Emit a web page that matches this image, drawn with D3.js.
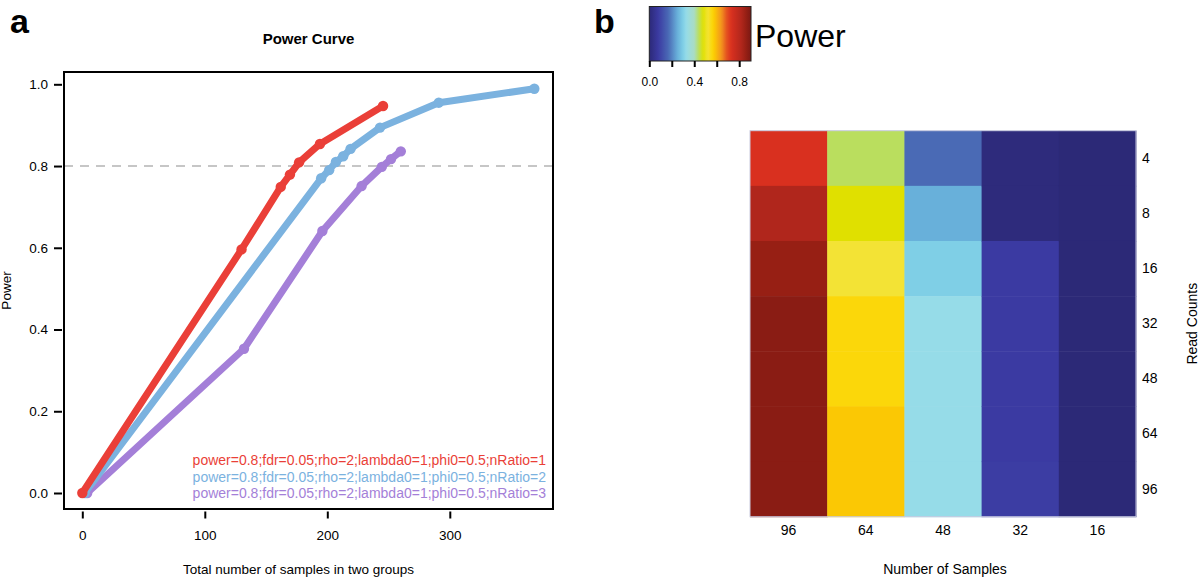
<!DOCTYPE html>
<html>
<head>
<meta charset="utf-8">
<script src="https://cdn.jsdelivr.net/npm/d3@7"></script>
<style>
  body { margin: 0; background: #fff; }
  svg { display: block; font-family: "Liberation Sans", Arial, Helvetica, sans-serif; }
</style>
</head>
<body>
<svg id="chart" width="1200" height="577"></svg>
<script>
// ---------- Panel a data ----------
const seriesNames = [
  "power=0.8;fdr=0.05;rho=2;lambda0=1;phi0=0.5;nRatio=1",
  "power=0.8;fdr=0.05;rho=2;lambda0=1;phi0=0.5;nRatio=2",
  "power=0.8;fdr=0.05;rho=2;lambda0=1;phi0=0.5;nRatio=3"
];
const seriesColors = ["#ea3f38", "#7bb2df", "#a47fd8"];
const redX    = [0, 130, 162, 169.5, 177, 194, 245.5];
const redY    = [0, 0.596, 0.749, 0.779, 0.809, 0.854, 0.947];
const blueX   = [2, 195, 201.5, 207, 213, 219, 243, 291, 369];
const blueY   = [0, 0.770, 0.790, 0.810, 0.824, 0.842, 0.894, 0.955, 0.989];
const purpleX = [4, 132, 196, 228, 244.5, 252, 260];
const purpleY = [0, 0.353, 0.641, 0.751, 0.798, 0.817, 0.836];
const xTicksA = [0, 100, 200, 300];
const yTicksA = [0, 0.2, 0.4, 0.6, 0.8, 1.0];
const powerTarget = 0.8;

// ---------- Panel b data ----------
const sampleCols = ["96", "64", "48", "32", "16"];
const readRows = ["4", "8", "16", "32", "48", "64", "96"];
// power values: one array per column (Number of Samples), rows in readRows order
const power96 = [0.73, 0.82, 0.86, 0.88, 0.88, 0.88, 0.88];
const power64 = [0.44, 0.48, 0.52, 0.56, 0.56, 0.58, 0.58];
const power48 = [0.17, 0.25, 0.30, 0.33, 0.33, 0.33, 0.33];
const power32 = [0.01, 0.01, 0.08, 0.08, 0.08, 0.08, 0.085];
const power16 = [0.0, 0.0, 0.0, 0.0, 0.0, 0.0, 0.0];
const colorStops  = [0.0, 0.08, 0.17, 0.25, 0.30, 0.33, 0.40, 0.44, 0.48, 0.52, 0.56, 0.58, 0.64, 0.69, 0.73, 0.82, 0.86, 0.88, 0.91];
const colorValues = ["#2c2977", "#3b3aa2", "#4a6ab5", "#68b0da", "#7fcfe6", "#96dce8", "#a9dcc4", "#bade5e", "#e0e000", "#f3e335", "#fbd70a", "#fbc804", "#f3961e", "#e4501f", "#d9301f", "#b0261c", "#971f14", "#8a1c14", "#7a1812"];
const cbTicks = [0, 0.2, 0.4, 0.6, 0.8];

const svg = d3.select("#chart");
svg.append("rect").attr("width", 1200).attr("height", 577).attr("fill", "#fff");

// ================= Panel a =================
const A = { left: 64, right: 553, top: 72, bottom: 509 };
const x = d3.scaleLinear().domain([0, 100]).range([82.3, 204.8]);
const y = d3.scaleLinear().domain([0, 1]).range([493, 84.3]);

svg.append("text").attr("x", 10).attr("y", 33).attr("font-size", 34).attr("font-weight", "bold").text("a");
svg.append("text").attr("x", 308.5).attr("y", 44).attr("text-anchor", "middle")
  .attr("font-size", 15).attr("font-weight", "bold").text("Power Curve");

// dashed target line
svg.append("line")
  .attr("x1", A.left).attr("x2", A.right)
  .attr("y1", y(powerTarget)).attr("y2", y(powerTarget))
  .attr("stroke", "#c6c6c6").attr("stroke-width", 2).attr("stroke-dasharray", "9,7");

const series = [
  { xs: redX, ys: redY, c: seriesColors[0] },
  { xs: blueX, ys: blueY, c: seriesColors[1] },
  { xs: purpleX, ys: purpleY, c: seriesColors[2] }
];
const line = d3.line().x(d => x(d[0])).y(d => y(d[1]));
const gA = svg.append("g");
// draw in reverse order so red sits on top like the reference
series.slice().reverse().forEach(s => {
  const pts = s.xs.map((v, i) => [v, s.ys[i]]);
  gA.append("path").attr("d", line(pts)).attr("fill", "none")
    .attr("stroke", s.c).attr("stroke-width", 7).attr("stroke-linejoin", "round");
  gA.selectAll(null).data(pts).enter().append("circle")
    .attr("cx", d => x(d[0])).attr("cy", d => y(d[1])).attr("r", 5.2).attr("fill", s.c);
});

// box
svg.append("rect").attr("x", A.left).attr("y", A.top)
  .attr("width", A.right - A.left).attr("height", A.bottom - A.top)
  .attr("fill", "none").attr("stroke", "#000").attr("stroke-width", 2);

// axes
const yAxis = svg.append("g").attr("transform", `translate(${A.left - 2},0)`)
  .call(d3.axisLeft(y).tickValues(yTicksA).tickFormat(d3.format(".1f")).tickSize(8).tickPadding(6));
const xAxis = svg.append("g").attr("transform", `translate(0,${A.bottom + 2.5})`)
  .call(d3.axisBottom(x).tickValues(xTicksA).tickFormat(d3.format("d")).tickSize(7).tickPadding(12));
[yAxis, xAxis].forEach(g => {
  g.select(".domain").remove();
  g.selectAll(".tick line").attr("stroke", "#000").attr("stroke-width", 2);
  g.selectAll(".tick text").attr("font-size", 13.5).attr("fill", "#000")
    .attr("font-family", "'Liberation Sans', Arial, Helvetica, sans-serif");
});

svg.append("text").attr("x", 298.5).attr("y", 574).attr("text-anchor", "middle")
  .attr("font-size", 13.5).text("Total number of samples in two groups");
svg.append("text").attr("transform", "translate(11,290.5) rotate(-90)").attr("text-anchor", "middle")
  .attr("font-size", 13.5).text("Power");

// legend
seriesNames.forEach((n, i) => {
  svg.append("text").attr("x", 546).attr("y", 465 + i * 16.7).attr("text-anchor", "end")
    .attr("font-size", 14).attr("fill", seriesColors[i]).text(n);
});

// ================= Panel b =================
svg.append("text").attr("x", 594).attr("y", 33).attr("font-size", 34).attr("font-weight", "bold").text("b");

const color = d3.scaleLinear().domain(colorStops).range(colorValues)
  .interpolate(d3.interpolateRgb).clamp(true);

// colorbar
const cbX = d3.scaleLinear().domain([0, 0.905]).range([649.3, 751]);
const cbTop = 6.5, cbBottom = 61;
const defs = svg.append("defs");
const grad = defs.append("linearGradient").attr("id", "cbgrad").attr("x1", "0%").attr("x2", "100%");
d3.range(0, 1.0001, 0.02).forEach(t => {
  grad.append("stop").attr("offset", (t * 100) + "%").attr("stop-color", color(t * 0.905));
});
svg.append("rect").attr("x", cbX(0)).attr("y", cbTop)
  .attr("width", cbX(0.905) - cbX(0)).attr("height", cbBottom - cbTop)
  .attr("fill", "url(#cbgrad)").attr("stroke", "#222").attr("stroke-width", 1);
const cbAxis = svg.append("g").attr("transform", `translate(0,${cbBottom})`)
  .call(d3.axisBottom(cbX).tickValues(cbTicks).tickFormat(d => (d % 0.4 < 1e-9 || Math.abs(d % 0.4 - 0.4) < 1e-9) ? d3.format(".1f")(d) : "")
    .tickSize(6).tickPadding(10));
cbAxis.select(".domain").remove();
cbAxis.selectAll(".tick line").attr("stroke", "#000").attr("stroke-width", 2);
cbAxis.selectAll(".tick text").attr("font-size", 12).attr("fill", "#000")
  .attr("font-family", "'Liberation Sans', Arial, Helvetica, sans-serif");
svg.append("text").attr("x", 755).attr("y", 47).attr("font-size", 32).text("Power");

// heatmap
const hx = d3.scaleBand().domain(sampleCols).range([750, 1136]).paddingInner(0);
const hy = d3.scaleBand().domain(readRows).range([130.7, 516.7]).paddingInner(0);
const colArrays = [power96, power64, power48, power32, power16];
const cells = [];
sampleCols.forEach((c, ci) => readRows.forEach((r, ri) => cells.push({ c, r, v: colArrays[ci][ri] })));
svg.append("g").selectAll("rect").data(cells).enter().append("rect")
  .attr("x", d => hx(d.c)).attr("y", d => hy(d.r))
  .attr("width", hx.bandwidth() + 0.5).attr("height", hy.bandwidth() + 0.5)
  .attr("fill", d => color(d.v));
svg.append("rect").attr("x", 750).attr("y", 130.7).attr("width", 386).attr("height", 386)
  .attr("fill", "none").attr("stroke", "#c9cbe0").attr("stroke-width", 1);

const hxAxis = svg.append("g").attr("transform", "translate(0,516.7)")
  .call(d3.axisBottom(hx).tickSize(0).tickPadding(8));
const hyAxis = svg.append("g").attr("transform", "translate(1136,0)")
  .call(d3.axisRight(hy).tickSize(0).tickPadding(6));
[hxAxis, hyAxis].forEach(g => {
  g.select(".domain").remove();
  g.selectAll(".tick text").attr("font-size", 14).attr("fill", "#000")
    .attr("font-family", "'Liberation Sans', Arial, Helvetica, sans-serif");
});
svg.append("text").attr("x", 945).attr("y", 574).attr("text-anchor", "middle")
  .attr("font-size", 14).text("Number of Samples");
svg.append("text").attr("transform", "translate(1197,323.7) rotate(-90)").attr("text-anchor", "middle")
  .attr("font-size", 14).text("Read Counts");
</script>
</body>
</html>
